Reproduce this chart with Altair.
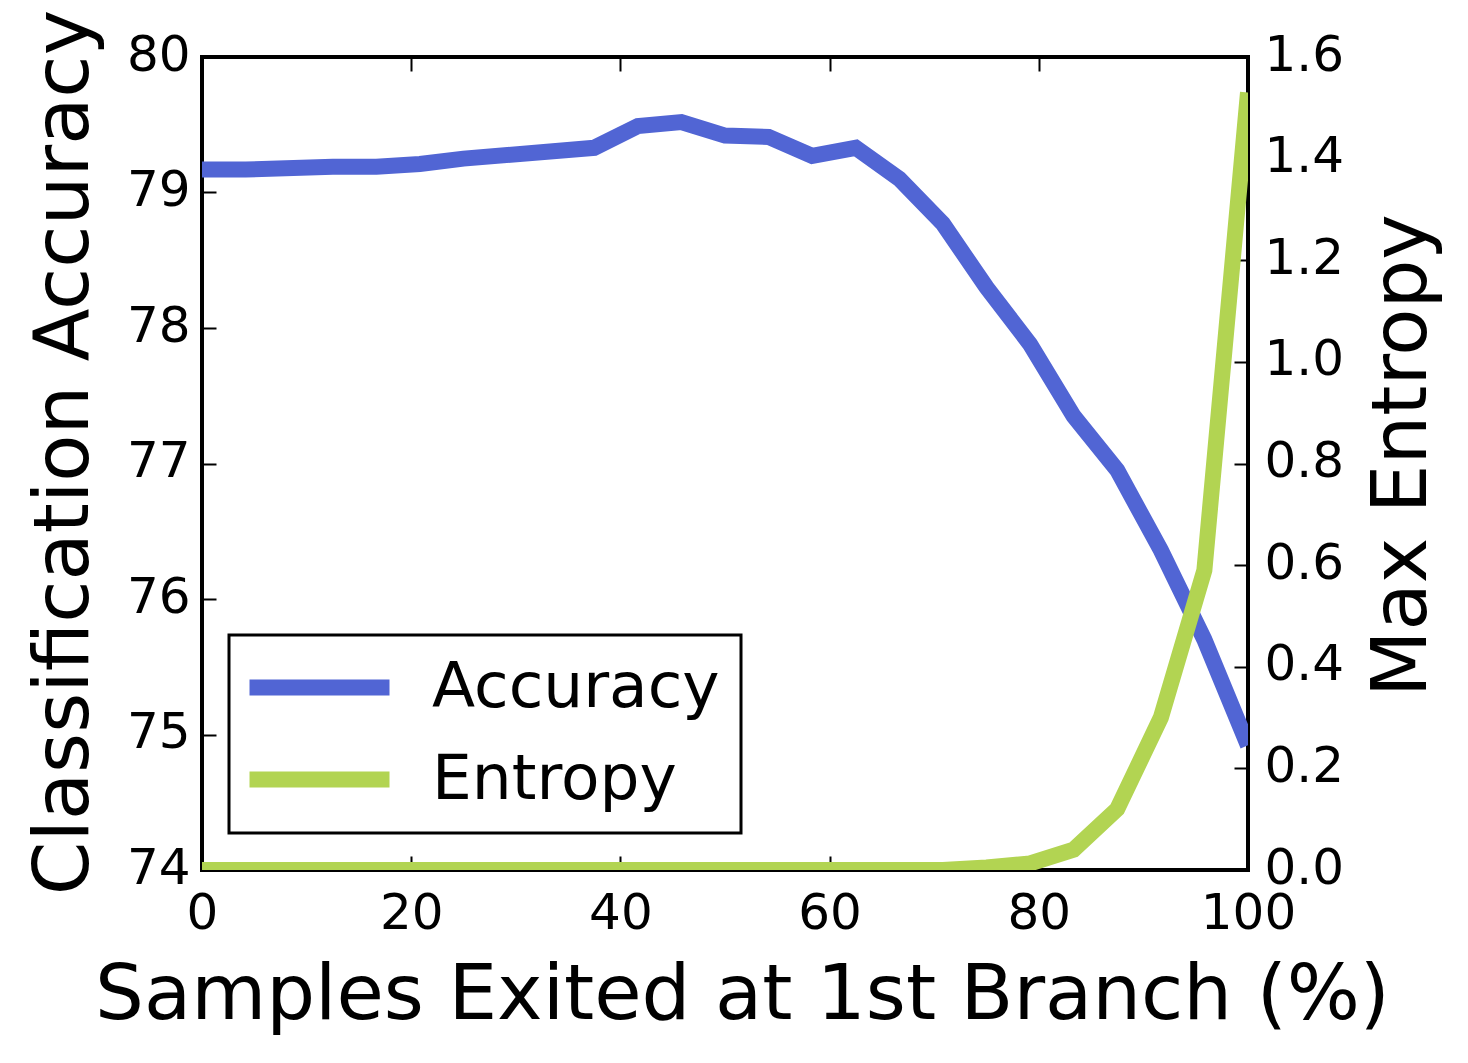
import altair as alt
import pandas as pd

# ---- data ----
x_pct = [0, 4.17, 12.5, 16.67, 20.83, 25, 37.5, 41.67, 45.83, 50, 54.17,
         58.33, 62.5, 66.67, 70.83, 75, 79.17, 83.33, 87.5, 91.67, 95.83, 100]
accuracy = [79.17, 79.17, 79.19, 79.19, 79.21, 79.25, 79.33, 79.49, 79.52, 79.42, 79.41,
            79.27, 79.33, 79.10, 78.77, 78.30, 77.88, 77.35, 76.95, 76.36, 75.70, 74.92]
entropy = [0, 0, 0, 0, 0, 0, 0, 0, 0, 0, 0,
           0, 0, 0, 0.0, 0.005, 0.013, 0.04, 0.12, 0.30, 0.59, 1.53]
series_names = ["Accuracy", "Entropy"]
series_colors = ["#5165D4", "#B2D452"]
x_ticks = [0, 20, 40, 60, 80, 100]
acc_ticks = [74, 75, 76, 77, 78, 79, 80]
ent_ticks = [0.0, 0.2, 0.4, 0.6, 0.8, 1.0, 1.2, 1.4, 1.6]

acc_df = pd.DataFrame({"x": x_pct, "value": accuracy, "series": series_names[0]})
ent_df = pd.DataFrame({"x": x_pct, "value": entropy, "series": series_names[1]})

FONT = "DejaVu Sans"
W, H = 1046, 813
TICK = 14
LABEL = 50
TITLE = 77
LW = 16

xscale = alt.Scale(domain=[0, 100], nice=False, zero=False)
acc_scale = alt.Scale(domain=[74, 80], nice=False, zero=False)
ent_scale = alt.Scale(domain=[0, 1.6], nice=False, zero=False)

color = alt.Color(
    "series:N",
    scale=alt.Scale(domain=series_names, range=series_colors),
    legend=alt.Legend(
        title=None, orient="none", legendX=27, legendY=578, direction="vertical",
        symbolType="M-2.285,0H7.715", symbolStrokeWidth=LW, symbolSize=784,
        labelFontSize=63, labelFont=FONT, labelColor="black", labelOffset=119,
        labelLimit=0,
        strokeColor="black", fillColor="white", padding=21, rowPadding=27,
        cornerRadius=0,
    ),
)


def label_axis(**kw):
    base = dict(domain=False, ticks=False, tickSize=0, grid=False,
                labelFont=FONT, labelFontSize=LABEL, labelColor="black",
                labelFlush=False, labelOverlap=False,
                titleFont=FONT, titleFontSize=TITLE, titleFontWeight="normal",
                titleColor="black")
    base.update(kw)
    return alt.Axis(**base)


def tick_axis(orient, values):
    return alt.Axis(orient=orient, values=values, offset=-TICK, tickSize=TICK,
                    ticks=True, tickColor="black", tickWidth=2, labels=False,
                    domain=False, grid=False, title=None)


x_bottom_labels = label_axis(
    orient="bottom", values=x_ticks, labelPadding=58, labelBaseline="alphabetic",
    title="Samples Exited at 1st Branch (%)", titleX=540, titleY=148,
    titleBaseline="alphabetic", titleAlign="center", titleAngle=0)

y_left_labels = label_axis(
    orient="left", values=acc_ticks, labelPadding=12, labelAlign="right",
    labelBaseline="alphabetic", labelOffset=13,
    title="Classification Accuracy", titleX=-115, titleY=395, titleAngle=270,
    titleBaseline="alphabetic", titleAlign="center")

y_right_labels = label_axis(
    orient="right", values=ent_ticks, labelPadding=16, labelAlign="left",
    labelBaseline="alphabetic", labelOffset=13,
    labelExpr="format(datum.value, '.1f')",
    title="Max Entropy", titleX=177, titleY=398, titleAngle=270,
    titleBaseline="alphabetic", titleAlign="center")

acc_line = alt.Chart(acc_df).mark_line(strokeWidth=LW, strokeCap="butt", clip=True).encode(
    x=alt.X("x:Q", scale=xscale, axis=x_bottom_labels),
    y=alt.Y("value:Q", scale=acc_scale, axis=y_left_labels),
    color=color,
)

ent_line = alt.Chart(ent_df).mark_line(strokeWidth=LW, strokeCap="butt", clip=True).encode(
    x=alt.X("x:Q", scale=xscale, axis=None),
    y=alt.Y("value:Q", scale=ent_scale, axis=y_right_labels),
    color=color,
)

acc_ticks_layer = alt.Chart(acc_df).mark_line(opacity=0).encode(
    x=alt.X("x:Q", scale=xscale, axis=tick_axis("bottom", x_ticks)),
    y=alt.Y("value:Q", scale=acc_scale, axis=tick_axis("left", acc_ticks)),
)

ent_ticks_layer = alt.Chart(ent_df).mark_line(opacity=0).encode(
    x=alt.X("x:Q", scale=xscale, axis=tick_axis("top", x_ticks)),
    y=alt.Y("value:Q", scale=ent_scale, axis=tick_axis("right", ent_ticks)),
)

chart = (
    alt.layer(acc_ticks_layer, ent_ticks_layer, acc_line, ent_line)
    .resolve_scale(y="independent")
    .resolve_axis(x="independent", y="independent")
    .properties(
        width=W, height=H,
        autosize=alt.AutoSizeParams(type="none"),
        padding={"left": 194, "top": 49, "right": 200, "bottom": 170},
        background="white",
    )
    .configure_view(stroke="black", strokeWidth=4)
    .configure_legend(strokeWidth=3)
)

chart.save("out.html", embed_options={"renderer": "svg", "actions": False})
